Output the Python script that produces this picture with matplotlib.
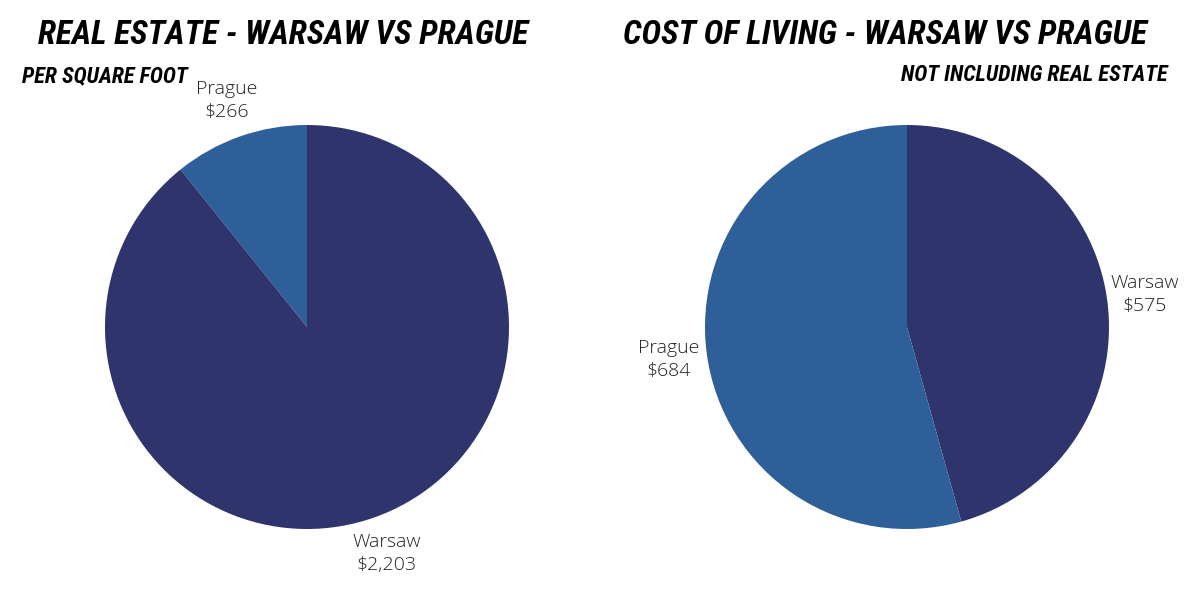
import matplotlib
matplotlib.use("Agg")
import matplotlib.pyplot as plt

# data
re_names = ["Prague", "Warsaw"]
re_values = [266, 2203]
col_names = ["Warsaw", "Prague"]
col_values = [575, 684]

c_prague = "#2E5F98"
c_warsaw = "#30346C"

title_font = dict(family=["Roboto Condensed", "Liberation Sans Narrow", "DejaVu Sans"],
                  weight="heavy", style="italic", stretch="condensed", color="black")
label_font = dict(family=["Open Sans", "DejaVu Sans"], weight="light", color="#222222")

fig = plt.figure(figsize=(12, 6), dpi=100)
W, H = 1200, 600
R = 202
L = 1.25
side = 2 * R * L


def add_pie(cx, cy, names, values, colors, counterclock):
    ax = fig.add_axes([(cx - side / 2) / W, (H - cy - side / 2) / H, side / W, side / H])
    labels = [f"{n}\n${v:,}" for n, v in zip(names, values)]
    wedges, texts = ax.pie(values, labels=labels, colors=colors, startangle=90,
                           counterclock=counterclock, labeldistance=1.19,
                           wedgeprops=dict(linewidth=0))
    for t in texts:
        t.set_ha("center")
        t.set_va("center")
        t.set_fontsize(14)
        t.set_linespacing(1.35)
        t.set_fontfamily(label_font["family"])
        t.set_fontweight(label_font["weight"])
        t.set_color(label_font["color"])
    ax.set_xlim(-L, L)
    ax.set_ylim(-L, L)
    ax.set_aspect("equal")
    ax.axis("off")
    return ax


add_pie(307, 327, re_names, re_values, [c_prague, c_warsaw], True)
add_pie(907, 327, col_names, col_values, [c_warsaw, c_prague], False)

fig.text(283 / W, 1 - 35 / H, "REAL ESTATE - WARSAW VS PRAGUE", ha="center", va="center",
         fontsize=24, **title_font)
fig.text(885 / W, 1 - 35 / H, "COST OF LIVING - WARSAW VS PRAGUE", ha="center", va="center",
         fontsize=24, **title_font)
fig.text(22 / W, 1 - 76 / H, "PER SQUARE FOOT", ha="left", va="center",
         fontsize=16, **title_font)
fig.text(1168 / W, 1 - 75 / H, "NOT INCLUDING REAL ESTATE", ha="right", va="center",
         fontsize=16, **title_font)

fig.savefig("out.png", dpi=100, facecolor="white")
